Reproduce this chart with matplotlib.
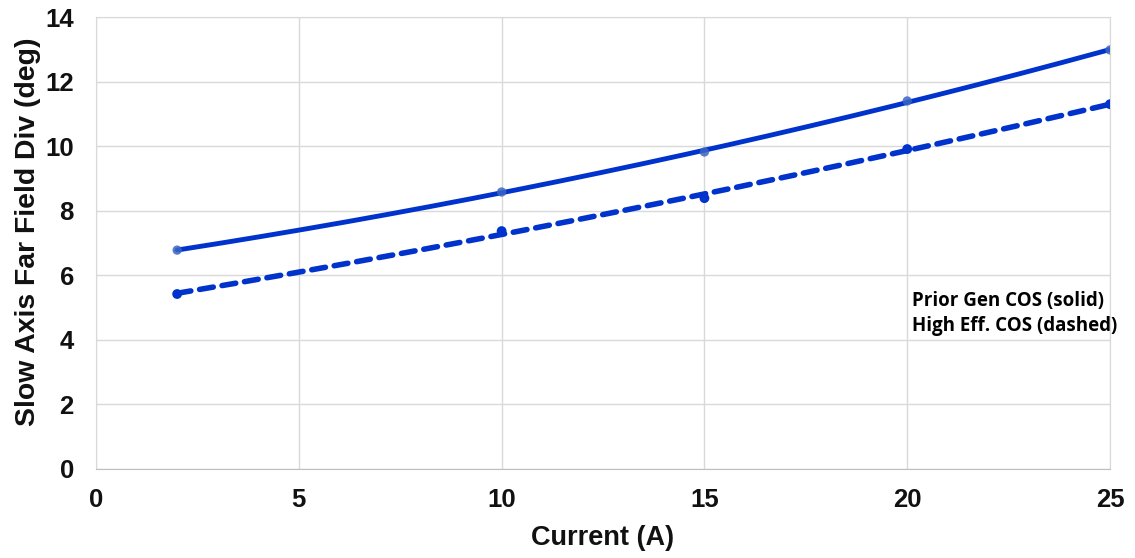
import numpy as np
import matplotlib.pyplot as plt

# data
current = [2, 10, 15, 20, 25]
prior_gen = [6.78, 8.58, 9.82, 11.4, 12.98]
high_eff = [5.42, 7.37, 8.39, 9.91, 11.30]

line_color = "#0033cc"

fig = plt.figure(figsize=(11.35, 5.58), dpi=100)
ax = fig.add_axes([0.0846, 0.1595, 0.8934, 0.81])

# 2nd order trendlines through the points
xs = np.linspace(min(current), max(current), 200)
fit_solid = np.polyval(np.polyfit(current, prior_gen, 2), xs)
fit_dash = np.polyval(np.polyfit(current, high_eff, 2), xs)

ax.plot(xs, fit_solid, color=line_color, lw=3.5, solid_capstyle="round", zorder=3)
ax.plot(xs, fit_dash, color=line_color, lw=4, ls=(0, (2.5, 1.6)),
        dash_capstyle="round", zorder=3)
ax.scatter(current, prior_gen, s=45, color="#3a66c4", alpha=0.85, zorder=4,
           edgecolors="none")
ax.scatter(current, high_eff, s=50, color=line_color, zorder=4, edgecolors="none")

ax.set_xlim(0, 25)
ax.set_ylim(0, 14)
ax.set_xticks([0, 5, 10, 15, 20, 25])
ax.set_yticks(range(0, 15, 2))
ax.grid(True, color="#d9d9d9", lw=1)
ax.set_axisbelow(True)
for s in ax.spines.values():
    s.set_color("#d9d9d9")
ax.spines["bottom"].set_color("#bfbfbf")
ax.tick_params(length=0, labelsize=18.5)
ax.tick_params(axis="x", pad=14)
ax.tick_params(axis="y", pad=16)
for lbl in ax.get_xticklabels() + ax.get_yticklabels():
    lbl.set_fontweight("bold")
    lbl.set_fontfamily("Liberation Sans")
    lbl.set_color("#111111")

ax.set_xlabel("Current (A)", fontsize=19.5, fontweight="bold",
              fontfamily="Liberation Sans", labelpad=9, color="#111111")
ax.set_ylabel("Slow Axis Far Field Div (deg)", fontsize=20.4, fontweight="bold",
              fontfamily="Liberation Sans", color="#111111")
ax.yaxis.set_label_coords(-0.054, 0.525)

ax.text(20.12, 5.5, "Prior Gen COS (solid)\nHigh Eff. COS (dashed)",
        fontsize=13.5, fontweight="bold", fontfamily="Open Sans",
        linespacing=1.3, va="top", ha="left")

fig.savefig("out.png", dpi=100)
